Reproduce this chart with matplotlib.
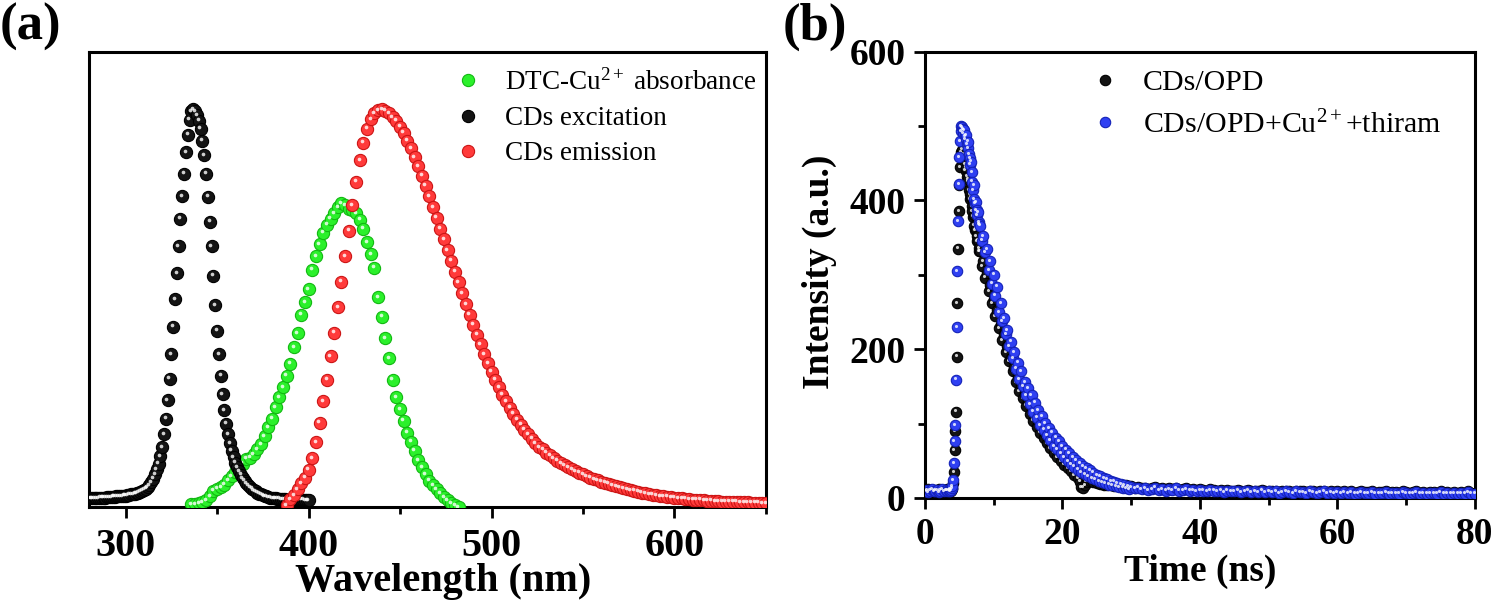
import numpy as np
import matplotlib
matplotlib.use("Agg")
import matplotlib.pyplot as plt
import matplotlib.transforms as mtransforms
from matplotlib.lines import Line2D
from matplotlib.legend_handler import HandlerTuple
from matplotlib.ticker import MultipleLocator

plt.rcParams['font.family'] = 'Liberation Serif'
plt.rcParams['font.weight'] = 'bold'
plt.rcParams['mathtext.fontset'] = 'custom'
plt.rcParams['mathtext.rm'] = 'Liberation Serif:weight=normal'
plt.rcParams['mathtext.it'] = 'Liberation Serif:italic:weight=normal'
plt.rcParams['mathtext.bf'] = 'Liberation Serif:bold'

# ---- panel (a): spectra (arb. units, peak = 100) ----
exc_wl = np.arange(280, 401)
exc_val = [0.8, 0.8, 0.8, 0.8, 0.8, 0.8, 0.9, 0.9, 0.9, 0.9,
           1.0, 1.0, 1.0, 1.1, 1.1, 1.2, 1.2, 1.3, 1.3, 1.4,
           1.4, 1.5, 1.6, 1.7, 1.8, 1.9, 2.0, 2.2, 2.4, 2.6,
           2.9, 3.2, 3.6, 4.1, 4.8, 5.7, 6.8, 8.1, 9.6, 11.4,
           13.8, 17.0, 21.0, 25.8, 31.2, 37.5, 44.5, 51.5, 58.2, 65.0,
           72.0, 77.8, 83.5, 89.0, 93.5, 97.3, 99.5, 100.0, 99.5, 98.5,
           97.0, 95.0, 92.0, 88.3, 83.5, 77.7, 71.3, 65.0, 57.5, 50.0,
           43.5, 37.5, 32.0, 27.3, 23.2, 19.8, 17.0, 14.8, 12.9, 11.2,
           9.8, 8.6, 7.6, 6.7, 5.9, 5.2, 4.6, 4.1, 3.6, 3.2,
           2.8, 2.5, 2.2, 1.9, 1.7, 1.5, 1.3, 1.2, 1.0, 0.9,
           0.8, 0.7, 0.7, 0.6, 0.6, 0.5, 0.5, 0.5, 0.4, 0.4,
           0.4, 0.4, 0.3, 0.3, 0.3, 0.3, 0.3, 0.3, 0.2, 0.2, 0.2]

abs_wl = np.arange(336, 483, 2)
abs_val = [-0.8, -0.8, -0.5, -0.3, 0.2, 1.2, 2.6, 3.2, 3.5, 4.2,
           5.3, 6.4, 7.4, 8.3, 9.6, 10.8, 11.1, 11.9, 13.2, 14.5,
           16.6, 18.8, 21.0, 24.0, 26.5, 29.0, 32.0, 35.0, 39.2, 42.8,
           47.5, 50.8, 54.0, 59.0, 62.5, 65.5, 68.5, 70.5, 72.0, 73.5,
           75.0, 76.0, 75.5, 74.6, 74.2, 73.5, 71.8, 69.5, 66.0, 63.0,
           59.5, 52.0, 47.0, 41.5, 36.5, 31.0, 26.5, 23.5, 20.5, 17.5,
           15.2, 12.8, 10.5, 8.6, 6.8, 5.2, 4.0, 3.0, 2.0, 1.0,
           0.2, -0.5, -1.0, -1.5]

em_wl = np.arange(388, 651, 2)
em_val = [-1.0, 0.5, 1.5, 3.0, 4.5, 6.0, 8.0, 11.0, 15.0, 20.0,
          25.5, 31.0, 37.0, 43.0, 49.5, 56.0, 62.5, 69.0, 75.5, 81.5,
          87.0, 91.5, 95.0, 97.5, 99.0, 99.8, 100.0, 99.6, 99.0, 98.0,
          97.0, 95.5, 94.0, 92.0, 90.0, 87.8, 85.5, 83.0, 80.5, 77.8,
          75.0, 72.3, 69.5, 66.8, 64.0, 61.3, 58.5, 55.8, 53.0, 50.2,
          47.5, 45.0, 42.5, 40.0, 37.5, 35.2, 33.0, 31.0, 29.0, 27.2,
          25.5, 23.8, 22.3, 20.8, 19.5, 18.2, 17.0, 15.9, 14.8, 13.8,
          13.2, 12.4, 11.7, 11.0, 10.3, 9.7, 9.1, 8.6, 8.1, 7.6,
          7.2, 6.8, 6.4, 6.0, 5.6, 5.3, 5.0, 4.7, 4.4, 4.1,
          3.8, 3.5, 3.3, 3.0, 2.8, 2.6, 2.4, 2.2, 2.0, 1.8,
          1.6, 1.5, 1.3, 1.2, 1.1, 1.0, 0.9, 0.8, 0.7, 0.6,
          0.5, 0.4, 0.3, 0.3, 0.2, 0.1, 0.1, 0.0, 0.0, -0.1,
          -0.1, -0.2, -0.2, -0.2, -0.3, -0.3, -0.3, -0.4, -0.4, -0.4,
          -0.5, -0.5]

# ---- panel (b): fluorescence decay ----
t_ns = np.concatenate([np.arange(0, 14) / 4, np.arange(35, 80) / 10,
                       np.arange(32, 120) / 4, np.arange(60, 161) / 2])

opd = [11, 9, 12, 10, 8, 11, 10, 9, 12, 10, 9, 11, 10, 12,
       11, 10, 12, 10, 12, 14, 20, 35, 64, 90,
       116, 190, 262, 335, 385, 420, 445, 458, 465, 468,
       462, 455, 458, 448, 440, 444, 432, 425, 428, 414,
       408, 402, 404, 392, 385, 378, 380, 366, 360, 362,
       352, 345, 347, 336, 332,
       332, 312, 318, 296, 302, 278, 286, 262,
       268, 244, 252, 228, 234, 212, 220, 196,
       204, 184, 188, 170, 176, 156, 164, 144,
       152, 134, 140, 124, 130, 113, 121, 104,
       112, 96, 104, 88, 95, 81, 88, 74,
       81, 67, 74, 61, 68, 55, 62, 50,
       56, 45, 51, 40, 47, 36, 41, 31,
       37, 27, 22, 15, 14, 17, 22, 25,
       23, 26, 21, 24, 20, 23, 19, 22,
       18, 21, 18, 20, 17, 20, 16, 19,
       16, 18, 15, 18, 15, 17, 14, 16,
       16, 14, 15, 13, 14, 12, 13, 15, 12, 13, 12, 13, 12, 14, 11, 12, 13, 11, 12, 11,
       12, 11, 10, 12, 11, 10, 11, 10, 11, 10, 10, 11, 9, 10, 11, 9, 10, 9, 11, 9,
       10, 9, 10, 8, 9, 10, 9, 8, 10, 9, 9, 8, 10, 9, 8, 9, 10, 8, 9, 8,
       9, 8, 9, 8, 9, 7, 8, 9, 8, 8, 9, 7, 8, 8, 9, 7, 8, 8, 7, 9,
       8, 7, 8, 9, 7, 8, 7, 8, 8, 7, 9, 7, 8, 7, 8, 7, 8, 7, 9, 7,
       7]

opd_cu = [9, 11, 8, 10, 12, 9, 10, 11, 8, 10, 12, 9, 11, 10,
          10, 12, 9, 11, 13, 16, 24, 47, 76, 98,
          159, 230, 305, 372, 422, 458, 480, 493, 500, 498,
          496, 490, 494, 486, 482, 488, 476, 470, 479, 462,
          457, 448, 452, 438, 425, 414, 420, 402, 396, 398,
          387, 380, 384, 371, 368,
          366, 346, 352, 330, 334, 306, 318, 288,
          300, 272, 284, 250, 262, 238, 242, 220,
          226, 204, 210, 188, 196, 174, 182, 160,
          170, 150, 156, 138, 148, 126, 138, 116,
          128, 108, 118, 98, 110, 92, 101, 84,
          94, 78, 88, 70, 81, 66, 76, 60,
          70, 55, 65, 50, 60, 46, 55, 42,
          51, 38, 47, 35, 43, 32, 40, 29,
          37, 27, 34, 25, 31, 23, 29, 21,
          27, 20, 25, 18, 23, 17, 22, 16,
          20, 15, 19, 14, 17, 13, 16, 12,
          15, 13, 14, 12, 13, 11, 12, 14, 11, 12, 10, 12, 11, 13, 10, 11, 12, 10, 11, 9,
          11, 10, 9, 11, 10, 9, 10, 8, 10, 9, 9, 10, 8, 9, 10, 8, 9, 8, 10, 8,
          9, 8, 9, 7, 8, 9, 8, 7, 9, 8, 8, 7, 9, 8, 7, 8, 9, 7, 8, 7,
          8, 7, 8, 7, 8, 6, 7, 8, 7, 7, 8, 6, 7, 7, 8, 6, 7, 7, 6, 8,
          7, 6, 7, 8, 6, 7, 6, 7, 7, 6, 8, 6, 7, 6, 7, 6, 7, 6, 8, 6,
          6]

fig = plt.figure(figsize=(14.96, 6.01), dpi=100)
ax1 = fig.add_axes([0.0595, 0.1564, 0.4525, 0.7571])
ax2 = fig.add_axes([0.6183, 0.1714, 0.3676, 0.7429])


def balls(ax, x, y, fc, ec, ms, z):
    # shaded "sphere" markers: body + small white highlight
    ax.plot(x, y, 'o', ls='none', ms=ms, mfc=fc, mec=ec, mew=0.8, zorder=z)
    hl = mtransforms.offset_copy(ax.transData, fig=ax.figure,
                                 x=-ms * 0.1, y=ms * 0.12, units='points')
    ax.plot(x, y, 'o', ls='none', ms=ms * 0.3, mfc='white', mec='none',
            alpha=0.8, zorder=z + 0.1, transform=hl)


def handle(fc, ec, ms):
    body = Line2D([], [], ls='none', marker='o', ms=ms, mfc=fc, mec=ec, mew=0.8)
    spot = Line2D([], [], ls='none', marker='o', ms=ms * 0.3, mfc='white', mec='none', alpha=0.8)
    return (body, spot)


GREEN = ('#2bf02b', '#12b812')
BLACK = ('#141414', '#000000')
RED = ('#ff3a3a', '#cc1515')
BLUE = ('#2f40f2', '#1422b8')

balls(ax1, abs_wl, abs_val, *GREEN, 8.8, 3)
balls(ax1, exc_wl, exc_val, *BLACK, 8.8, 4)
balls(ax1, em_wl, em_val, *RED, 8.8, 5)

ax1.set_xlim(280, 650)
ax1.set_ylim(-1.5, 114.6)
ax1.xaxis.set_major_locator(MultipleLocator(100))
ax1.xaxis.set_minor_locator(MultipleLocator(50))
ax1.set_yticks([])
ax1.set_xlabel('Wavelength (nm)', fontsize=29, fontweight='bold')
ax1.xaxis.set_label_coords(0.523, -0.124)

leg1 = ax1.legend([handle(*GREEN, 8.8), handle(*BLACK, 8.8), handle(*RED, 8.8)],
                  [r'DTC-Cu$^{2+}$ absorbance', 'CDs excitation', 'CDs emission'],
                  handler_map={tuple: HandlerTuple(ndivide=None)},
                  loc='upper left', bbox_to_anchor=(0.549, 0.962), frameon=False,
                  borderpad=0, borderaxespad=0, handlelength=1.05, handletextpad=0.6,
                  labelspacing=0.38,
                  prop={'family': 'Liberation Serif', 'weight': 'normal', 'size': 19.5})

balls(ax2, t_ns, opd, *BLACK, 7.5, 3)
balls(ax2, t_ns, opd_cu, *BLUE, 7.5, 4)

ax2.set_xlim(0, 80)
ax2.set_ylim(0, 600)
ax2.xaxis.set_major_locator(MultipleLocator(20))
ax2.xaxis.set_minor_locator(MultipleLocator(10))
ax2.yaxis.set_major_locator(MultipleLocator(200))
ax2.yaxis.set_minor_locator(MultipleLocator(100))
ax2.set_xlabel('Time (ns)', fontsize=27, fontweight='bold')
ax2.xaxis.set_label_coords(0.5, -0.125)
ax2.set_ylabel('Intensity (a.u.)', fontsize=27, fontweight='bold')
ax2.yaxis.set_label_coords(-0.16, 0.506)

leg2 = ax2.legend([handle(*BLACK, 7.5), handle(*BLUE, 7.5)],
                  ['CDs/OPD', r'CDs/OPD+Cu$^{2+}$+thiram'],
                  handler_map={tuple: HandlerTuple(ndivide=None)},
                  loc='upper left', bbox_to_anchor=(0.313, 0.960), frameon=False,
                  borderpad=0, borderaxespad=0, handlelength=1.0, handletextpad=0.53,
                  labelspacing=0.47,
                  prop={'family': 'Liberation Serif', 'weight': 'normal', 'size': 21.5})

for ax in (ax1, ax2):
    for sp in ax.spines.values():
        sp.set_linewidth(2.2)
    ax.tick_params(which='major', direction='out', length=8, width=2, labelsize=29, pad=7)
    ax.tick_params(which='minor', direction='out', length=5, width=2)
    ax.tick_params(top=False, right=False, which='both')
ax2.tick_params(axis='y', which='major', pad=6, labelsize=27)
ax2.tick_params(axis='x', which='major', labelsize=27, pad=6)

fig.text(0.0, 0.995, '(a)', fontsize=38, fontweight='bold', va='top', ha='left')
fig.text(0.523, 0.995, '(b)', fontsize=38, fontweight='bold', va='top', ha='left')

fig.savefig('out.png', dpi=100)
